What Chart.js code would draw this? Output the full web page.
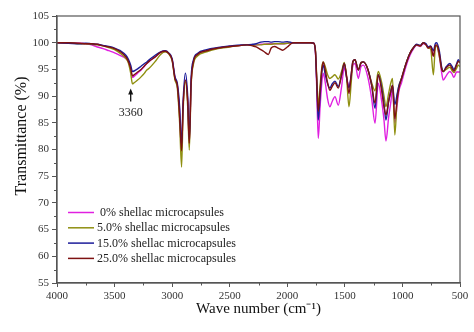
<!DOCTYPE html>
<html>
<head>
<meta charset="utf-8">
<script src="https://cdn.jsdelivr.net/npm/chart.js@4/dist/chart.umd.min.js"></script>
<style>
  html, body { margin: 0; padding: 0; background: #ffffff; }
  #wrap { width: 474px; height: 332px; }
</style>
</head>
<body>
<div id="wrap"><canvas id="ftir" width="474" height="332"></canvas></div>
<script>
// FTIR spectra: wave number (cm-1) and transmittance (%) for each shellac content
const waveNumbers = [
  4000,3900,3800,3750,3700,3650,3600,3550,3500,3450,3400,3380,3360,3345,3330,3300,3270,3240,3220,3200,3150,3100,3060,3030,3000,
  2975,2955,2935,2918,2905,2885,2865,2851,2835,2815,2780,2700,2600,2500,2400,2350,2300,2270,2230,2200,2165,2140,2110,2080,2040,2000,
  1950,1900,1800,1770,1755,1745,1731,1715,1700,1688,1670,1650,1630,1610,1586,1557,1530,1505,1485,1464,1445,1430,1412,1383,1360,1339,1300,1267,1238,1210,1180,1160,1143,1120,1100,1086,1066,1045,1030,1008,
  970,935,900,877,845,819,795,777,755,731,715,703,680,660,646,620,588,570,553,530,515,500
];

const shellac0 = [
  100,100,99.9,99.8,99.6,99.2,98.9,98.5,98.1,97.6,97.0,96.4,95.0,93.5,93.7,94.3,94.9,95.6,96.1,96.5,97.3,98.2,98.4,98.0,96.8,
  93.4,92.0,87.0,79.5,88.0,93.0,89.0,81.0,92.5,96.3,97.7,98.5,99.0,99.3,99.5,99.6,99.6,99.6,99.7,99.7,99.8,99.8,99.8,99.8,99.8,99.9,
  100,100,100,99.9,98,92,82.1,88,92.5,94.3,92.5,89.5,88.0,89.0,89.9,88.3,91.5,95.3,93.5,91.8,93.5,95.8,96.1,93.3,95.5,95.8,93.5,89.5,84.9,92.4,89.0,85.5,81.6,86.0,89.0,92.0,85.0,88.5,91.0,92.5,
  95.5,97.6,99.0,99.5,99.3,99.8,99.6,99.0,99.3,97.5,99.2,99.4,97.5,94.5,93.0,93.8,94.6,94.2,93.5,94.5,94.5,94.5
];

const shellac5 = [
  100,100,99.8,99.8,99.7,99.6,99.4,99.1,98.7,98.0,97.0,96.2,94.3,92.3,92.5,93.0,93.6,94.3,94.9,95.2,96.4,97.8,98.3,97.9,96.6,
  93.0,91.5,85.0,76.7,87.0,92.7,88.0,79.9,92.0,96.0,97.5,98.3,98.9,99.2,99.5,99.6,99.5,99.6,99.6,99.7,99.7,99.7,99.8,99.8,99.8,99.9,
  100,100,100,99.9,98.5,94,88.3,92,95.4,96.4,95.5,94.0,93.3,93.6,94.0,93.2,94.5,96.3,93.5,88.0,92.5,96.3,96.8,94.9,96.3,96.4,95.0,92.5,91.0,94.6,92.5,90.0,88.0,90.5,92.5,93.3,82.7,90.0,92.0,93.3,
  96.0,98.0,99.2,99.6,99.4,100.0,99.6,99.0,98.8,94.0,99.0,99.4,97.5,95.2,94.6,95.0,95.4,94.8,94.4,95.2,95.8,95.5
];

const shellac15 = [
  100,99.9,99.8,99.9,99.8,99.7,99.5,99.3,99.0,98.5,97.6,96.9,95.8,94.6,94.7,95.1,95.6,96.1,96.4,96.8,97.6,98.3,98.5,98.1,97.0,
  93.6,92.4,88.0,80.8,89.0,94.3,90.0,82.0,93.5,96.8,98.0,98.7,99.1,99.4,99.6,99.6,99.7,99.8,100.1,100.2,100.2,100.1,100.2,100.2,100.1,100.2,
  100,100,100,99.9,98.2,93,85.5,90,94.4,95.8,94.0,92.3,91.5,92.3,92.8,91.8,93.8,96.1,93.5,91.5,94.0,96.5,96.8,94.9,96.2,96.4,95.0,92.0,87.7,94.0,91.5,88.5,85.5,89.0,91.0,92.0,88.4,90.5,92.0,93.3,
  96.0,98.0,99.2,99.7,99.5,100.0,99.8,99.2,99.4,98.5,99.8,100.0,98.5,95.5,94.6,95.5,96.1,95.6,95.0,96.0,96.8,96.4
];

const shellac25 = [
  100,100,99.9,99.8,99.8,99.7,99.4,99.2,98.9,98.3,97.3,96.5,95.2,93.8,94.0,94.5,95.0,95.7,96.1,96.5,97.3,98.2,98.4,98.0,96.8,
  93.2,92.0,86.0,79.8,88.0,93.0,89.0,81.2,92.5,96.4,97.8,98.5,99.0,99.3,99.5,99.6,99.4,99.2,98.7,98.3,97.8,99.0,99.3,99.0,98.6,99.2,
  100,100,100,99.9,98.3,93.5,87.1,91,95.0,96.4,94.8,92.5,91.1,91.8,92.5,91.5,93.8,96.1,93.8,90.5,94.0,96.5,96.8,94.9,96.2,96.4,95.0,92.0,88.7,94.0,91.0,88.0,86.5,89.0,91.0,92.0,85.8,89.5,91.5,93.3,
  96.0,98.0,99.2,99.6,99.4,100.0,99.6,99.0,99.3,97.5,99.4,99.6,98.0,95.2,94.6,95.3,95.8,95.2,94.7,95.8,96.5,96.2
];

const seriesLabels = [' 0% shellac microcapsules', '5.0% shellac microcapsules', '15.0% shellac microcapsules', '25.0% shellac microcapsules'];
const seriesValues = [shellac0, shellac5, shellac15, shellac25];
const seriesColors = ['#e020e0', '#8f8f10', '#1c1c9a', '#7e1212'];

// O-H stretching band marker
const markedPeak = 3360;
const markerArrowFrom = 89.0;
const markerArrowTo = 91.4;
const markerTextAt = 86.8;

const serif = "'Liberation Serif', 'Times New Roman', serif";
Chart.defaults.font.family = serif;

const datasets = seriesValues.map((vals, i) => ({
  label: seriesLabels[i],
  data: waveNumbers.map((w, j) => ({ x: w, y: vals[j] })),
  borderColor: seriesColors[i],
  backgroundColor: seriesColors[i],
  borderWidth: 1.4,
  pointRadius: 0,
  cubicInterpolationMode: 'monotone',
  fill: false,
  order: seriesValues.length - i
}));

// Closed frame around the plotting area
const framePlugin = {
  id: 'frame',
  afterDraw(chart) {
    const { ctx, chartArea: a } = chart;
    ctx.save();
    ctx.strokeStyle = '#555';
    ctx.lineWidth = 1.2;
    ctx.strokeRect(a.left, a.top, a.right - a.left, a.bottom - a.top);
    ctx.restore();
  }
};

// Short minor ticks halfway between labelled ticks
const minorTickPlugin = {
  id: 'minorTicks',
  afterDraw(chart) {
    const { ctx, chartArea: a, scales } = chart;
    ctx.save();
    ctx.strokeStyle = '#555';
    ctx.lineWidth = 1;
    ctx.beginPath();
    for (let v = 57.5; v < 105; v += 5) {
      const py = Math.round(scales.y.getPixelForValue(v)) + 0.5;
      ctx.moveTo(a.left - 3, py);
      ctx.lineTo(a.left, py);
    }
    for (let v = 750; v < 4000; v += 500) {
      const px = Math.round(scales.x.getPixelForValue(v)) + 0.5;
      ctx.moveTo(px, a.bottom);
      ctx.lineTo(px, a.bottom + 2.5);
    }
    ctx.stroke();
    ctx.restore();
  }
};

// Arrow and wave number label at the O-H band
const peakMarkerPlugin = {
  id: 'peakMarker',
  afterDatasetsDraw(chart) {
    const { ctx, scales } = chart;
    const px = scales.x.getPixelForValue(markedPeak);
    const yFrom = scales.y.getPixelForValue(markerArrowFrom);
    const yTo = scales.y.getPixelForValue(markerArrowTo);
    ctx.save();
    ctx.strokeStyle = '#111';
    ctx.fillStyle = '#111';
    ctx.lineWidth = 1.3;
    ctx.beginPath();
    ctx.moveTo(px, yFrom);
    ctx.lineTo(px, yTo + 4);
    ctx.stroke();
    ctx.beginPath();
    ctx.moveTo(px, yTo);
    ctx.lineTo(px - 2.5, yTo + 6);
    ctx.lineTo(px + 2.5, yTo + 6);
    ctx.closePath();
    ctx.fill();
    ctx.font = '12px ' + serif;
    ctx.textAlign = 'center';
    ctx.textBaseline = 'middle';
    ctx.fillStyle = '#222';
    ctx.fillText(String(markedPeak), px, scales.y.getPixelForValue(markerTextAt));
    ctx.restore();
  }
};

// Legend drawn inside the plotting area, lower left
const innerLegendPlugin = {
  id: 'innerLegend',
  afterDatasetsDraw(chart) {
    const { ctx, chartArea: a } = chart;
    ctx.save();
    ctx.font = '12px ' + serif;
    ctx.textAlign = 'left';
    ctx.textBaseline = 'middle';
    chart.data.datasets.forEach((ds, i) => {
      const y = 212.5 + i * 15.3;
      ctx.strokeStyle = ds.borderColor;
      ctx.lineWidth = 1.5;
      ctx.beginPath();
      ctx.moveTo(a.left + 11, y);
      ctx.lineTo(a.left + 37, y);
      ctx.stroke();
      ctx.fillStyle = '#222';
      ctx.fillText(ds.label, a.left + 40, y + 0.5);
    });
    ctx.restore();
  }
};

// Axis titles
const axisTitlePlugin = {
  id: 'axisTitles',
  afterDraw(chart) {
    const { ctx, chartArea: a } = chart;
    ctx.save();
    ctx.fillStyle = '#111';
    ctx.font = '15px ' + serif;
    ctx.textAlign = 'center';
    ctx.textBaseline = 'middle';
    ctx.fillText('Wave number (cm\u207B\u00B9)', (a.left + a.right) / 2, 309);
    ctx.translate(22, 136);
    ctx.rotate(-Math.PI / 2);
    ctx.font = '16px ' + serif;
    ctx.fillText('Transmittance (%)', 0, 0);
    ctx.restore();
  }
};

const plainNumber = (value) => String(value);

new Chart(document.getElementById('ftir'), {
  type: 'line',
  data: { datasets },
  options: {
    responsive: false,
    devicePixelRatio: 1,
    animation: false,
    layout: { padding: { left: 0, right: 14, top: 16, bottom: 0 } },
    plugins: {
      legend: { display: false },
      tooltip: { enabled: false }
    },
    scales: {
      x: {
        type: 'linear',
        reverse: true,
        min: 500,
        max: 4000,
        ticks: { stepSize: 500, color: '#333', font: { size: 11 }, padding: 3, maxRotation: 0, autoSkip: false, callback: plainNumber },
        grid: { drawOnChartArea: false, tickLength: 4, tickColor: '#555' },
        border: { color: '#555', width: 1.2 },
        afterFit(scale) { scale.height = 49; }
      },
      y: {
        min: 55,
        max: 105,
        ticks: { stepSize: 5, color: '#333', font: { size: 11 }, padding: 3, callback: plainNumber },
        grid: { drawOnChartArea: false, tickLength: 5, tickColor: '#555' },
        border: { color: '#555', width: 1.2 },
        afterFit(scale) { scale.width = 57; }
      }
    }
  },
  plugins: [framePlugin, minorTickPlugin, peakMarkerPlugin, innerLegendPlugin, axisTitlePlugin]
});
</script>
</body>
</html>
